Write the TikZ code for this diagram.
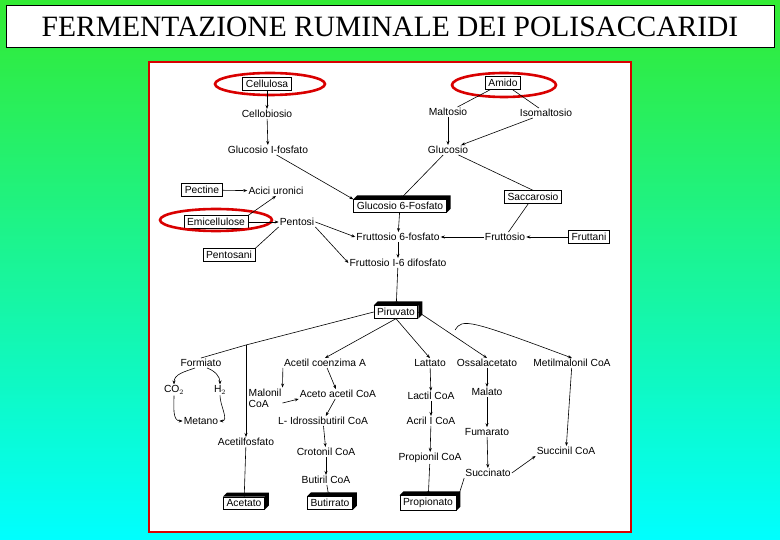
\documentclass[tikz,border=0pt]{standalone}
\usepackage{fontspec}
\setmainfont{Liberation Serif}
\newfontfamily\lsans{Liberation Sans}
\usetikzlibrary{arrows.meta,calc}
\begin{document}
\begin{tikzpicture}[x=1pt,y=-1pt,
 t/.style={font=\lsans\fontsize{10.3}{11}\selectfont,inner sep=1pt},
 bx/.style={t,draw,line width=0.8pt,inner xsep=3pt,inner ysep=2.5pt},
 sb/.style={bx,fill=white},
 ov/.style={draw=red!85!black,line width=2.6pt},
 ar/.style={-{Stealth[length=4pt,width=3pt]},line width=0.6pt},
 ln/.style={line width=0.6pt}]
\useasboundingbox (0,0) rectangle (780,540);
\shade[top color=green!90!black!80, bottom color=cyan] (0,0) rectangle (780,540);
\node[draw,line width=1pt,fill=white,minimum width=768pt,minimum height=42pt,inner sep=0pt,font=\fontsize{29.5}{31}\selectfont] (title) at (390,27) {FERMENTAZIONE RUMINALE DEI POLISACCARIDI};
\node[draw=red!85!black,line width=2.5pt,fill=white,minimum width=482pt,minimum height=470pt] (panel) at (390,297) {};
% top
\node[bx] (cel) at (267,84) {Cellulosa};
\draw[ov] (270,84) ellipse (55 and 11);
\node[bx] (ami) at (503,83) {Amido};
\draw[ov] (504,85) ellipse (52 and 12);
\node[t] (cb) at (267,114) {Cellobiosio};
\node[t] (mal) at (448,112) {Maltosio};
\node[t] (iso) at (546,113) {Isomaltosio};
\node[t] (g1p) at (268,150) {Glucosio I-fosfato};
\node[t] (glu) at (448,150) {Glucosio};
\node[bx] (pec) at (202,190) {Pectine};
\node[t] (acu) at (276,191) {Acici uronici};
\node[sb] (g6p) at (400,206) {Glucosio 6-Fosfato};
\node[bx] (sac) at (533,197) {Saccarosio};
\node[bx] (emi) at (216,222) {Emicellulose};
\draw[ov] (216,220) ellipse (56 and 11);
\node[t] (pen) at (297,222) {Pentosi};
\node[t] (f6p) at (398,237) {Fruttosio 6-fosfato};
\node[t] (fru) at (505,237) {Fruttosio};
\node[bx] (frn) at (589,237) {Fruttani};
\node[bx] (pes) at (229,255) {Pentosani};
\node[t] (fdp) at (398,263) {Fruttosio I-6 difosfato};
\node[sb] (pir) at (396,312) {Piruvato};
\draw[ar] (cel) -- (cb);
\draw[ar] (cb) -- (g1p);
\draw[ar] (g1p) -- (g6p.north west);
\draw[ln] (ami) -- (mal); \draw[ln] (ami) -- (iso);
\draw[ar] (mal) -- (glu); \draw[ar] (iso) -- (glu);
\draw[ar] (glu) -- (g6p.north);
\draw[ln] (glu) -- (sac.north); \draw[ln] (sac) -- (fru);
\draw[ar] (frn) -- (fru); \draw[ar] (fru) -- (f6p);
\draw[ar] (g6p) -- (f6p); \draw[ar] (f6p) -- (fdp);
\draw[ar] (pec) -- (acu);
\draw[ar] (emi.north east) -- (acu.south);
\draw[ar] (emi) -- (pen);
\draw[ln] (pes.north east) -- (pen.south west);
\draw[ar] (pen.east) -- (f6p.west);
\draw[ar] (pen.south east) -- (fdp.west);
\draw[ar] (fdp) -- (pir);
% bottom
\node[t] (for) at (201,363) {Formiato};
\node[t] (co2) at (174,390) {CO$_2$};
\node[t] (h2) at (220,390) {H$_2$};
\node[t] (met) at (201,421) {Metano};
\node[t] (aca) at (325,363) {Acetil coenzima A};
\node[t,align=left] (mac) at (265,398) {Malonil\\CoA};
\node[t] (aac) at (338,394) {Aceto acetil CoA};
\node[t] (lid) at (323,421) {L- Idrossibutiril CoA};
\node[t] (cro) at (326,452) {Crotonil CoA};
\node[t] (but) at (326,480) {Butiril CoA};
\node[sb] (bur) at (330,503) {Butirrato};
\node[t] (afo) at (246,442) {Acetilfosfato};
\node[sb] (ace) at (244,503) {Acetato};
\node[t] (lat) at (430,363) {Lattato};
\node[t] (lac) at (431,396) {Lactil CoA};
\node[t] (acr) at (431,421) {Acril I CoA};
\node[t] (prc) at (430,458) {Propionil CoA};
\node[sb] (pro) at (428,503) {Propionato};
\node[t] (oss) at (487,363) {Ossalacetato};
\node[t] (mao) at (487,392) {Malato};
\node[t] (fum) at (487,432) {Fumarato};
\node[t] (suc) at (488,473) {Succinato};
\node[t] (mmc) at (572,363) {Metilmalonil CoA};
\node[t] (sco) at (566,451) {Succinil CoA};
\foreach \n in {g6p,pir,bur,ace,pro}{
  \fill (\n.north west) -- ++(4,-4) -- ($(\n.north east)+(4,-4)$) -- ($(\n.south east)+(4,-4)$) -- (\n.south east) -- (\n.north east) -- cycle;
}
\coordinate (fj) at (246,345);
\coordinate (cs) at (455,330);
\draw[ln] (pir.west) -- (fj) -- (for.north);
\draw[ar] (fj) -- (afo);
\draw[ln] (afo) -- (ace);
\draw[ar] (pir.south) -- (aca.north);
\draw[ar] (pir.south) -- (lat.north);
\draw[ar] (pir.east) -- (oss.north);
\draw[ar] (cs) .. controls (462,318) and (470,320) .. (mmc.north);
\draw[ar] ([xshift=-6pt]for.south) to[out=200,in=90] (co2.north);
\draw[ar] ([xshift=6pt]for.south) to[out=-20,in=90] (h2.north);
\draw[ar] (co2.south) to[out=-90,in=180] (met.west);
\draw[ar] (h2.south) to[out=-90,in=0] (met.east);
\draw[ar] (aca.south west) -- (mac.north east);
\draw[ar] (mac.east |- 0,403) -- (aac.south west);
\draw[ar] (aca) -- (aac); \draw[ar] (aac) -- (lid); \draw[ar] (lid) -- (cro);
\draw[ar] (cro) -- (but); \draw[ar] (but) -- (bur);
\draw[ar] (lat) -- (lac); \draw[ar] (lac) -- (acr); \draw[ar] (acr) -- (prc); \draw[ar] (prc) -- (pro);
\draw[ar] (oss) -- (mao); \draw[ar] (mao) -- (fum); \draw[ar] (fum) -- (suc);
\draw[ar] (suc.south west) -- (pro.east);
\draw[ar] (suc.east) -- (sco.south west);
\draw[ar] (mmc) -- (sco);
\end{tikzpicture}
\end{document}
